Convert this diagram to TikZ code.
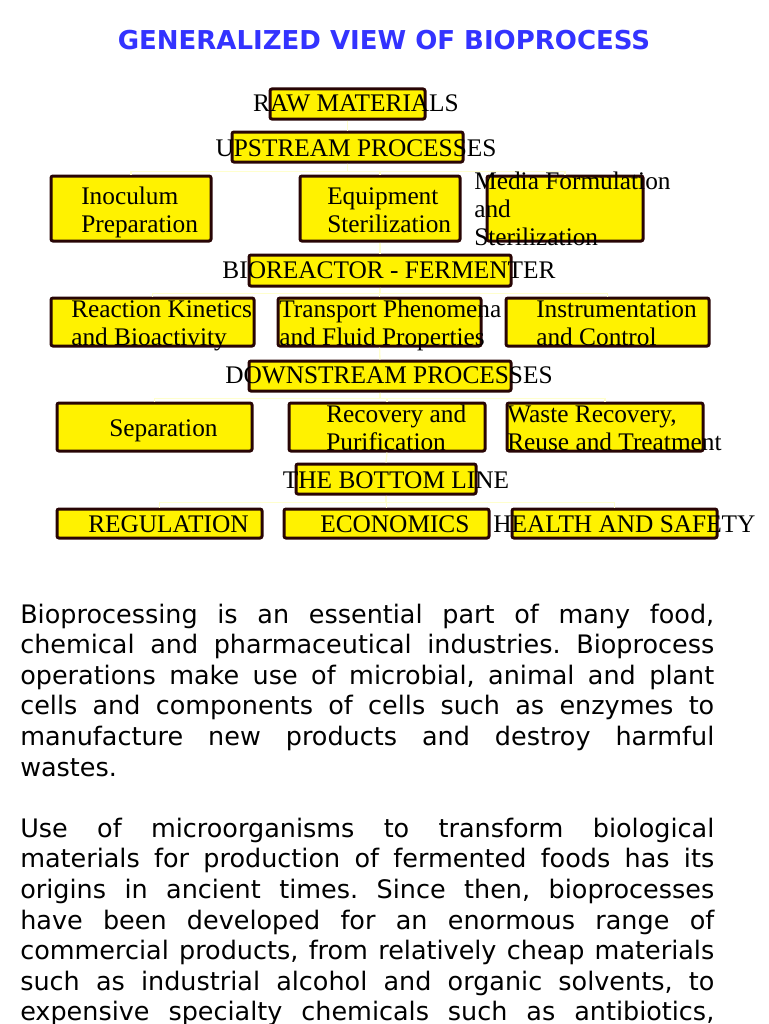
\documentclass[tikz,border=0pt]{standalone}
\usepackage{fontspec}
\setmainfont{Liberation Serif}
\newfontfamily\bodyfont{DejaVu Sans}
\usetikzlibrary{fit}
\definecolor{boxline}{RGB}{40,5,5}
\definecolor{titleblue}{RGB}{51,51,255}
\definecolor{linkyellow}{RGB}{255,255,205}
\newcommand\fullline[1]{\hbox to 520.5pt{\spaceskip=0pt\xspaceskip=0pt\frenchspacing #1}}
\tikzset{
  stage/.style={draw=boxline, fill=yellow, line width=2.25pt, rounded corners=1.5pt, inner sep=0pt},
  stagetext/.style={font=\fontsize{19pt}{21pt}\selectfont, inner sep=0pt, align=left},
  link/.style={draw=linkyellow, line width=1pt},
}
\begin{document}
\begin{tikzpicture}[x=0.75pt, y=-0.75pt]
\useasboundingbox (0,0) rectangle (768,1024);
\node[anchor=base, inner sep=0pt, text=titleblue, font=\bodyfont\bfseries\fontsize{19.5pt}{23pt}\selectfont] (title) at (384,50) {GENERALIZED VIEW OF BIOPROCESS};
%boxes
\node[stage, fit={(270,89) (425,119)}] (raw) {};
\node[stage, fit={(232,132) (463,162)}] (up) {};
\node[stage, fit={(51,176) (211,241)}] (inoc) {};
\node[stage, fit={(300,176) (460,241)}] (equip) {};
\node[stage, fit={(487,176) (643,241)}] (media) {};
\node[stage, fit={(249,255) (511,286)}] (bio) {};
\node[stage, fit={(51,298) (254,346)}] (kin) {};
\node[stage, fit={(278,298) (481,346)}] (trans) {};
\node[stage, fit={(506,298) (709,346)}] (instr) {};
\node[stage, fit={(249,361) (511,391)}] (down) {};
\node[stage, fit={(57,403) (252,451)}] (sep) {};
\node[stage, fit={(289,403) (485,451)}] (recov) {};
\node[stage, fit={(507,403) (703,451)}] (waste) {};
\node[stage, fit={(296,464) (476,494)}] (bottom) {};
\node[stage, fit={(57,509) (262,538)}] (reg) {};
\node[stage, fit={(284,509) (489,538)}] (econ) {};
\node[stage, fit={(512,509) (717,538)}] (health) {};
%links
\draw[link] (raw.south) -- (up.north);
\draw[link] (up.south) -- ++(0,8) -| (inoc.north);
\draw[link] (up.south) -- ++(0,8) -| (equip.north);
\draw[link] (up.south) -- ++(0,8) -| (media.north);
\draw[link] (equip.south) -- (bio.north);
\draw[link] (bio.south) -- ++(0,6) -| (kin.north);
\draw[link] (bio.south) -- ++(0,6) -| (trans.north);
\draw[link] (bio.south) -- ++(0,6) -| (instr.north);
\draw[link] (trans.south) -- (down.north);
\draw[link] (down.south) -- ++(0,6) -| (sep.north);
\draw[link] (down.south) -- ++(0,6) -| (recov.north);
\draw[link] (down.south) -- ++(0,6) -| (waste.north);
\draw[link] (recov.south) -- (bottom.north);
\draw[link] (bottom.south) -- ++(0,7) -| (reg.north);
\draw[link] (bottom.south) -- ++(0,7) -| (econ.north);
\draw[link] (bottom.south) -- ++(0,7) -| (health.north);
%texts (multi-line ones sit on their last baseline)
\node[stagetext, anchor=base] (rawT) at (356,112) {RAW MATERIALS};
\node[stagetext, anchor=base] (upT) at (356,156) {UPSTREAM PROCESSES};
\node[stagetext, anchor=base west] (inocT) at (81,232) {Inoculum\\Preparation};
\node[stagetext, anchor=base west] (equipT) at (327,232) {Equipment\\Sterilization};
\node[stagetext, anchor=base west] (mediaT) at (474,245) {Media Formulation\\and\\Sterilization};
\node[stagetext, anchor=base] (bioT) at (389,278) {BIOREACTOR - FERMENTER};
\node[stagetext, anchor=base west] (kinT) at (71,345) {Reaction Kinetics\\and Bioactivity};
\node[stagetext, anchor=base west] (transT) at (279,345) {Transport Phenomena\\and Fluid Properties};
\node[stagetext, anchor=base west] (instrT) at (536,345) {Instrumentation\\and Control};
\node[stagetext, anchor=base] (downT) at (389,383) {DOWNSTREAM PROCESSES};
\node[stagetext, anchor=base west] (sepT) at (109,436) {Separation};
\node[stagetext, anchor=base west] (recovT) at (326,450) {Recovery and\\Purification};
\node[stagetext, anchor=base west] (wasteT) at (507,450) {Waste Recovery,\\Reuse and Treatment};
\node[stagetext, anchor=base] (bottomT) at (396,488) {THE BOTTOM LINE};
\node[stagetext, anchor=base west] (regT) at (88,532) {REGULATION};
\node[stagetext, anchor=base west] (econT) at (320,532) {ECONOMICS};
\node[stagetext, anchor=base west] (healthT) at (493,532) {HEALTH AND SAFETY};
%body
\node[anchor=base west, inner sep=0pt, text width=520.5pt, font=\bodyfont\fontsize{19.1pt}{22.95pt}\selectfont] (body) at (20,623) {%
\fullline{Bioprocessing is an essential part of many food,}
\fullline{chemical and pharmaceutical industries. Bioprocess}
\fullline{operations make use of microbial, animal and plant}
\fullline{cells and components of cells such as enzymes to}
\fullline{manufacture new products and destroy harmful}
\hbox{wastes.}
\vskip 22.95pt
\fullline{Use of microorganisms to transform biological}
\fullline{materials for production of fermented foods has its}
\fullline{origins in ancient times. Since then, bioprocesses}
\fullline{have been developed for an enormous range of}
\fullline{commercial products, from relatively cheap materials}
\fullline{such as industrial alcohol and organic solvents, to}
\fullline{expensive specialty chemicals such as antibiotics,}};
\end{tikzpicture}
\end{document}
